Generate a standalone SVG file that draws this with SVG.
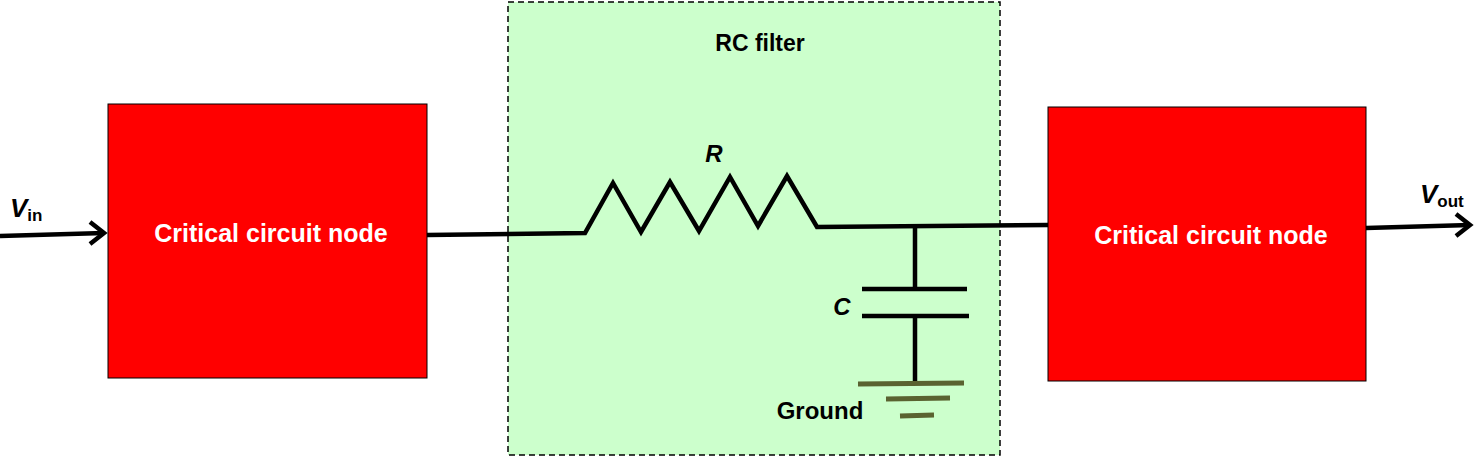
<svg xmlns="http://www.w3.org/2000/svg" width="1475" height="458" viewBox="0 0 1475 458">
<style>
.w{stroke:#000;stroke-width:4.5;fill:none;stroke-linejoin:miter}
.t{font-family:"Liberation Sans",Arial,sans-serif;font-weight:bold;fill:#000}
.box{fill:#ff0000;stroke:#000;stroke-width:1}
.g{stroke:#5a6230;stroke-width:5}
</style>
<rect width="1475" height="458" fill="#fff"/>
<g id="rcfilter">
<rect x="508" y="2" width="492" height="453" fill="#ccffcc" stroke="#000" stroke-width="1.5" stroke-dasharray="6,4"/>
<text class="t" x="760" y="51" font-size="23" text-anchor="middle">RC filter</text>
</g>
<g id="node1"><rect class="box" x="108" y="104" width="319" height="274"/>
<text class="t" x="271" y="242" font-size="25" style="fill:#fff" text-anchor="middle">Critical circuit node</text></g>
<g id="node2"><rect class="box" x="1048" y="107" width="318" height="274"/>
<text class="t" x="1211" y="244" font-size="25" style="fill:#fff" text-anchor="middle">Critical circuit node</text></g>
<g id="connectors">
<path class="w" d="M0 236 L104 233"/>
<path class="w" d="M90 222 L104 233 L90 244"/>
<path class="w" d="M427 235 L585 233 L613 183 L641 232 L670 182 L699 231 L730 177 L758 226 L787 176 L817 227 L1048 225"/>
<path class="w" d="M1366 228 L1470 225"/>
<path class="w" d="M1456 214 L1470 225 L1456 236"/>
<path class="w" d="M915 226 V289 M862 289 H967 M862 316 H969 M915 316 V382"/>
<path class="g" d="M858 384 L964 383 M886 399 L950 398 M900 416 L934 415"/>
</g>
<g id="labels">
<text class="t" x="714" y="162" font-size="24" font-style="italic" text-anchor="middle">R</text>
<text class="t" x="842" y="315" font-size="24" font-style="italic" text-anchor="middle">C</text>
<text class="t" x="820" y="419" font-size="24" text-anchor="middle">Ground</text>
<text class="t" x="10" y="217" font-size="26" font-style="italic">V<tspan font-size="17" font-style="normal" dy="4">in</tspan></text>
<text class="t" x="1420" y="203" font-size="26" font-style="italic">V<tspan font-size="17" font-style="normal" dy="4">out</tspan></text>
</g>
</svg>
